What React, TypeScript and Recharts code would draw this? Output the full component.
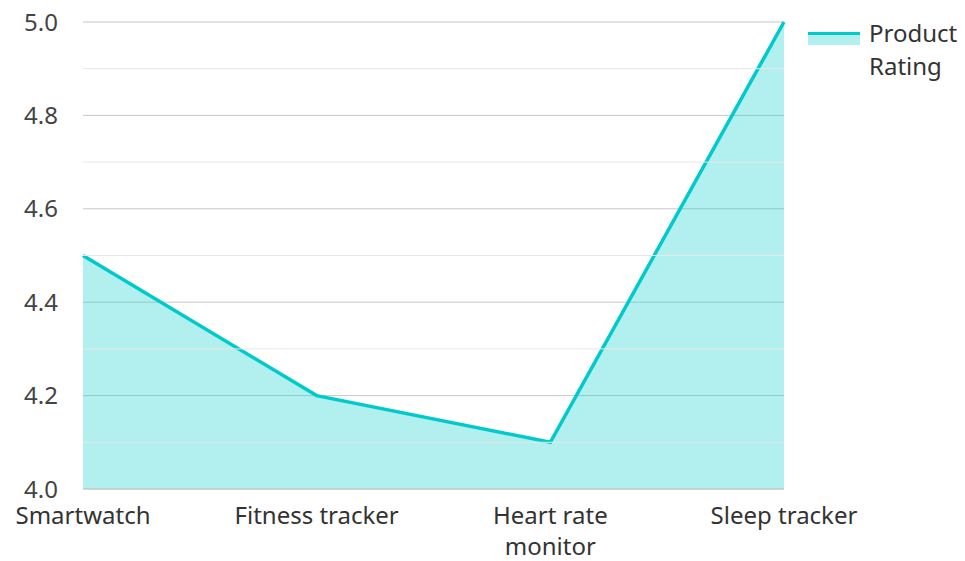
import { AreaChart, Area, XAxis, YAxis, CartesianGrid, ReferenceLine } from 'recharts'

const products = ['Smartwatch', 'Fitness tracker', 'Heart rate monitor', 'Sleep tracker']
const ratings = [4.5, 4.2, 4.1, 5.0]
const majorTicks = [4.0, 4.2, 4.4, 4.6, 4.8, 5.0]
const minorTicks = [4.1, 4.3, 4.5, 4.7, 4.9]

const data = products.map((name, i) => ({ name, rating: ratings[i] }))

const COLOR = '#00caca'
const FILL = '#1ccfcf'
const FONT = '"Noto Sans", "Open Sans", sans-serif'

// greedy word wrap, long labels go on two lines
function wrapLabel(label: string, maxChars = 16) {
  const lines: string[] = []
  let cur = ''
  for (const w of label.split(' ')) {
    const next = cur ? cur + ' ' + w : w
    if (next.length > maxChars && cur) {
      lines.push(cur)
      cur = w
    } else cur = next
  }
  if (cur) lines.push(cur)
  return lines
}

function XTick(props: any) {
  const { x, y, payload } = props
  const lines = wrapLabel(payload.value)
  return (
    <text x={x} y={y} textAnchor="middle" fontSize={24} fill="#333" fontFamily={FONT}>
      {lines.map((l, i) => (
        <tspan key={i} x={x} dy={i === 0 ? 17 : 31}>
          {l}
        </tspan>
      ))}
    </text>
  )
}

export default function App() {
  return (
    <div style={{ position: 'absolute', left: 0, top: 0, width: 965, height: 561, fontFamily: FONT }}>
      <AreaChart width={965} height={561} data={data} margin={{ top: 22, right: 181, left: 0, bottom: 0 }}>
        <CartesianGrid vertical={false} stroke="#c8c8c8" syncWithTicks />
        {minorTicks.map((v) => (
          <ReferenceLine key={v} y={v} stroke="#e6e6e6" />
        ))}
        <XAxis
          dataKey="name"
          tick={<XTick />}
          tickLine={false}
          axisLine={{ stroke: '#c8c8c8' }}
          interval={0}
          tickSize={0}
          tickMargin={18}
          height={72}
        />
        <YAxis
          domain={[4, 5]}
          ticks={majorTicks}
          type="number"
          width={83}
          axisLine={false}
          tickLine={false}
          tickSize={0}
          tickMargin={25}
          tickFormatter={(v: number) => v.toFixed(1)}
          tick={{ fontSize: 24, fill: '#444', fontFamily: FONT }}
        />
        <Area
          type="linear"
          dataKey="rating"
          stroke={COLOR}
          strokeWidth={3.5}
          fill={FILL}
          fillOpacity={0.34}
          isAnimationActive={false}
          dot={false}
          activeDot={false}
        />
      </AreaChart>
      <div style={{ position: 'absolute', left: 808, top: 16, display: 'flex', alignItems: 'flex-start' }}>
        <div style={{ width: 52, marginTop: 16 }}>
          <div style={{ height: 3, background: COLOR }} />
          <div style={{ height: 10, background: FILL, opacity: 0.34 }} />
        </div>
        <div style={{ marginLeft: 9, fontSize: 24, lineHeight: '33px', color: '#333', fontFamily: FONT }}>
          Product
          <br />
          Rating
        </div>
      </div>
    </div>
  )
}
